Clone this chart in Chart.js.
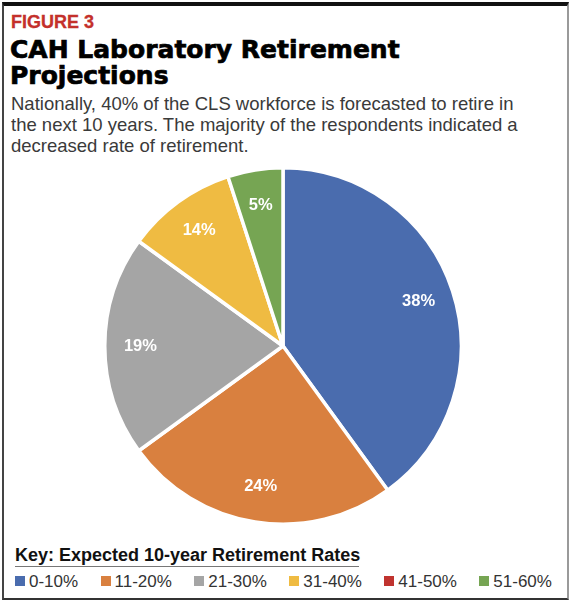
<!DOCTYPE html>
<html>
<head>
<meta charset="utf-8">
<script src="https://cdn.jsdelivr.net/npm/chart.js@4.4.0/dist/chart.umd.min.js"></script>
<style>
  html, body { margin: 0; padding: 0; background: #fff; }
  body { width: 570px; height: 600px; position: relative; overflow: hidden; font-family: "Liberation Sans", Arial, sans-serif; }
  #frame { position: absolute; left: 2px; top: 2px; width: 563px; height: 592px;
           border-top: 4px solid #111; border-left: 2px solid #444; border-right: 2px solid #9a9a9a; border-bottom: 2px solid #333; }
  .t { position: absolute; white-space: nowrap; }
  #fig { left: 11px; top: 11.8px; font-size: 18px; line-height: 20px; font-weight: bold; color: #c4302b; -webkit-text-stroke: 0.3px #c4302b; }
  #title { left: 10px; top: 37.3px; font-family: "DejaVu Sans", sans-serif; font-size: 25px; line-height: 26px; font-weight: bold; color: #000; -webkit-text-stroke: 0.7px #000; }
  #sub { left: 11px; top: 93.1px; font-size: 18.5px; line-height: 21px; color: #3a3a3a; }
  #keyTitle { left: 15px; top: 544.8px; font-size: 18px; line-height: 20px; font-weight: bold; color: #111; }
  #keyLine { position: absolute; left: 15px; top: 566px; width: 344px; height: 1px; background: #777; }
  #legend { position: absolute; left: 15px; top: 572px; width: 537px; display: flex; justify-content: space-between;
            font-size: 17px; line-height: 20px; color: #333; }
  .item { display: flex; align-items: flex-start; white-space: nowrap; }
  .sw { width: 10px; height: 10px; margin-top: 4px; margin-right: 4px; }
  #pieWrap { position: absolute; left: 103px; top: 166px; width: 360px; height: 360px; }
</style>
</head>
<body>
<div id="frame"></div>
<div class="t" id="fig">FIGURE 3</div>
<div class="t" id="title">CAH Laboratory Retirement<br>Projections</div>
<div class="t" id="sub">Nationally, 40% of the CLS workforce is forecasted to retire in<br>the next 10 years. The majority of the respondents indicated a<br>decreased rate of retirement.</div>
<div id="pieWrap"><canvas id="pie" width="360" height="360"></canvas></div>
<div class="t" id="keyTitle">Key: Expected 10-year Retirement Rates</div>
<div id="keyLine"></div>
<div id="legend"></div>
<script>
// Categories (key order, clockwise from 12 o'clock)
const categories = ['0-10%', '11-20%', '21-30%', '31-40%', '41-50%', '51-60%'];
// Slice sizes as drawn in the picture (share of the circle)
const sliceShares = [40, 25, 20, 10, 0, 5];
// Percentages printed on the slices
const printedPercents = [38, 24, 19, 14, 0, 5];
const sliceColors = ['#4a6cae', '#d9803f', '#a5a5a5', '#efbb42', '#c0332f', '#76a553'];

// HTML key built from the arrays
const legendEl = document.getElementById('legend');
categories.forEach((c, i) => {
  const item = document.createElement('div');
  item.className = 'item';
  const sw = document.createElement('span');
  sw.className = 'sw';
  sw.style.background = sliceColors[i];
  const tx = document.createElement('span');
  tx.textContent = c;
  item.appendChild(sw);
  item.appendChild(tx);
  legendEl.appendChild(item);
});

const sliceLabels = {
  id: 'sliceLabels',
  afterDatasetsDraw(chart) {
    const ctx = chart.ctx;
    const meta = chart.getDatasetMeta(0);
    ctx.save();
    ctx.fillStyle = '#ffffff';
    ctx.font = 'bold 16.5px "Liberation Sans", Arial, sans-serif';
    ctx.textAlign = 'center';
    ctx.textBaseline = 'middle';
    meta.data.forEach((arc, i) => {
      const v = printedPercents[i];
      if (!v) return;
      const p = arc.getProps(['x', 'y', 'startAngle', 'endAngle', 'outerRadius'], true);
      const mid = (p.startAngle + p.endAngle) / 2;
      const r = p.outerRadius * 0.8;
      ctx.fillText(v + '%', p.x + Math.cos(mid) * r, p.y + Math.sin(mid) * r);
    });
    ctx.restore();
  }
};

new Chart(document.getElementById('pie'), {
  type: 'pie',
  data: {
    labels: categories,
    datasets: [{
      data: sliceShares,
      backgroundColor: sliceColors,
      borderColor: '#ffffff',
      borderWidth: 3.5,
      hoverOffset: 0
    }]
  },
  options: {
    responsive: false,
    animation: false,
    layout: { padding: 0 },
    plugins: { legend: { display: false }, tooltip: { enabled: false } }
  },
  plugins: [sliceLabels]
});
</script>
</body>
</html>
